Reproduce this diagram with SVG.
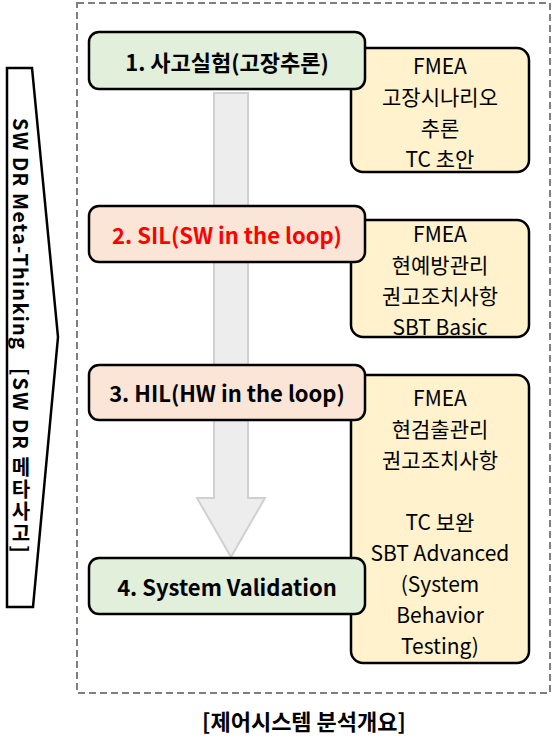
<svg xmlns="http://www.w3.org/2000/svg" width="552" height="753" viewBox="0 0 552 753">
<style>
.t{font-family:"Noto Sans CJK KR","Noto Sans",sans-serif;text-anchor:middle;dominant-baseline:central}
.v{font-family:"Noto Sans CJK KR","Noto Sans",sans-serif;font-size:20px;font-weight:bold;writing-mode:vertical-rl;text-anchor:start;fill:#000}
.step{stroke:#000;stroke-width:2.5}
.note{fill:#FFF2CC;stroke:#000;stroke-width:2.5}
.nt{font-size:21px;fill:#000}
.bt{font-size:22px;font-weight:bold}
</style>
<rect x="77" y="3" width="473" height="690" fill="#fff" stroke="#7f7f7f" stroke-width="2" stroke-dasharray="7,4"/>
<g id="meta">
<polygon points="7,68 32,68 58,337 33,607 7,607" fill="#fff" stroke="#000" stroke-width="2.5"/>
<text class="v" x="21" y="118" letter-spacing="1.2">SW DR Meta-Thinking</text>
<text class="v" x="21" y="368" letter-spacing="2">[SW DR 메타사고]</text>
</g>
<g id="connectors">
<polygon points="214,93 248,93 248,498 265,498 231,557 197,498 214,498" fill="#EDEDED" stroke="#D0D0D0" stroke-width="2"/>
</g>
<g id="note1">
<rect class="note" x="351" y="48" width="178" height="124" rx="12"/>
<text class="t nt" x="440" y="65">FMEA</text>
<text class="t nt" x="440" y="96">고장시나리오</text>
<text class="t nt" x="440" y="127">추론</text>
<text class="t nt" x="440" y="158">TC 초안</text>
</g>
<g id="note2">
<rect class="note" x="351" y="220" width="178" height="117" rx="12"/>
<text class="t nt" x="440" y="233">FMEA</text>
<text class="t nt" x="440" y="264">현예방관리</text>
<text class="t nt" x="440" y="295">권고조치사항</text>
<text class="t nt" x="440" y="326">SBT Basic</text>
</g>
<g id="note3">
<rect class="note" x="351" y="375" width="178" height="288" rx="12"/>
<text class="t nt" x="440" y="397">FMEA</text>
<text class="t nt" x="440" y="428">현검출관리</text>
<text class="t nt" x="440" y="459">권고조치사항</text>
<text class="t nt" x="440" y="521">TC 보완</text>
<text class="t nt" x="440" y="552">SBT Advanced</text>
<text class="t nt" x="440" y="583">(System</text>
<text class="t nt" x="440" y="614">Behavior</text>
<text class="t nt" x="440" y="645">Testing)</text>
</g>
<g id="step1">
<rect class="step" x="89" y="32" width="276" height="57" rx="10" fill="#E2EFDA"/>
<text class="t bt" x="227" y="61" fill="#000">1. 사고실험(고장추론)</text>
</g>
<g id="step2">
<rect class="step" x="89" y="206" width="276" height="56" rx="10" fill="#FBE5D6"/>
<text class="t bt" x="227" y="234" fill="#FF0000">2. SIL(SW in the loop)</text>
</g>
<g id="step3">
<rect class="step" x="89" y="365" width="276" height="55" rx="10" fill="#FBE5D6"/>
<text class="t bt" x="227" y="392" fill="#000">3. HIL(HW in the loop)</text>
</g>
<g id="step4">
<rect class="step" x="89" y="558" width="276" height="56" rx="10" fill="#E2EFDA"/>
<text class="t bt" x="227" y="586" fill="#000">4. System Validation</text>
</g>
<text class="t bt" x="304" y="720" font-size="25" fill="#000">[제어시스템 분석개요]</text>
</svg>
